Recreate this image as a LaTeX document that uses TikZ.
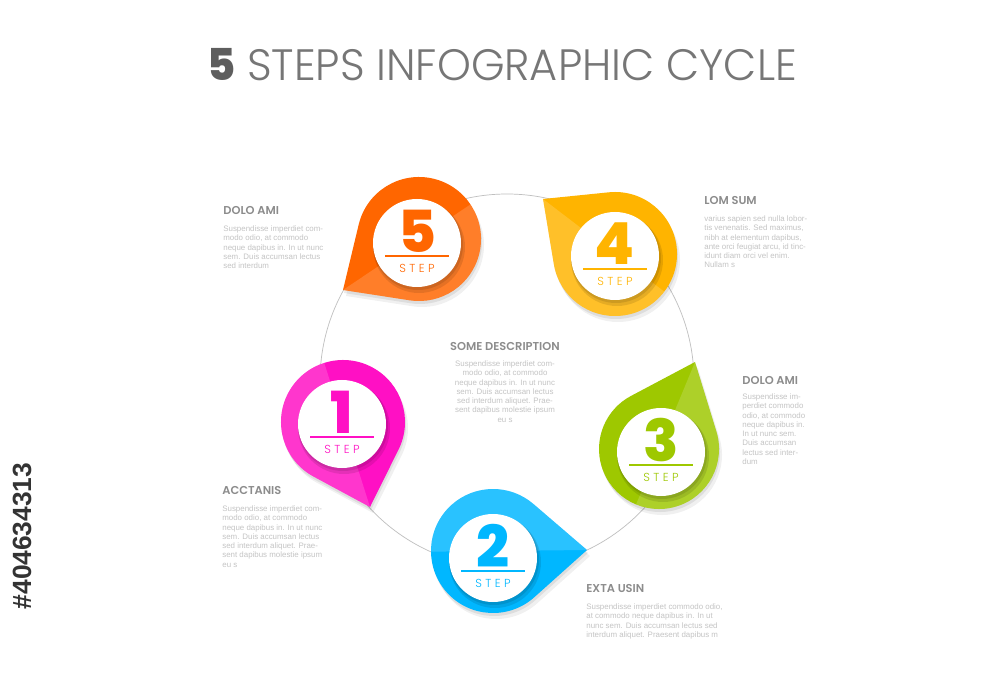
\documentclass[tikz,border=0pt]{standalone}
\usepackage{fontspec}
\setmainfont{Liberation Sans}
\newfontfamily\headfont{Poppins SemiBold}
\newfontfamily\numfont{Poppins ExtraBold}
\newfontfamily\thinfont{Poppins Light}
\newfontfamily\stepfont{Poppins Light}[LetterSpace=30]
\usepackage{graphicx}
\usetikzlibrary{calc}
\tikzset{>=latex}
\usepackage{xcolor}

\definecolor{pinkstep}{RGB}{255,16,196}
\definecolor{bluestep}{RGB}{0,183,255}
\definecolor{greenstep}{RGB}{158,200,0}
\definecolor{yellowstep}{RGB}{255,180,0}
\definecolor{orangestep}{RGB}{255,102,0}
\definecolor{headgray}{RGB}{140,140,140}
\definecolor{bodygray}{RGB}{196,196,196}
\definecolor{titlegray}{RGB}{118,118,118}

\tikzset{
  head/.style={font=\headfont\fontsize{6.5}{7}\selectfont, text=headgray, inner sep=0pt},
  body/.style={font=\fontsize{4.5}{5.27}\selectfont, text=bodygray, inner sep=0pt, align=left},
  bodyc/.style={body, align=center},
  stepnum/.style={font=\numfont\fontsize{33}{33}\selectfont, inner sep=0pt},
  steplabel/.style={font=\stepfont\fontsize{6.6}{7}\selectfont, inner sep=0pt}
}

\begin{document}
\begin{tikzpicture}[x=0.02cm,y=-0.02cm]
\useasboundingbox (0,0) rectangle (1000,695);
\fill[white] (0,0) rectangle (1000,695);

% title
\node[font=\fontsize{25}{25}\selectfont] (title) at (502,65)
  {\scalebox{0.98}[1]{\color{titlegray!80!black}\numfont 5\thinfont\color{titlegray}\ STEPS INFOGRAPHIC CYCLE}};

% cycle
\coordinate (cyc) at (507,381);
\draw[gray!50, line width=0.4pt] (cyc) circle (187);

% pins
\foreach \n/\cx/\cy/\r/\tx/\ty/\ix/\iy/\col/\s in {
  1/343/422/62/370/507/342/424/pinkstep/1,
  2/493/551/62/587/550/493/558/bluestep/-1,
  3/659/449/60/695/362/661/452/greenstep/1,
  4/615/254/62/543/199/615/256/yellowstep/-1,
  5/419/239/62/343/290/417/243/orangestep/-1}{
  \pgfmathsetmacro\pphi{atan2(\ty-\cy,\tx-\cx)}
  \pgfmathsetmacro\pal{acos(\r/veclen(\tx-\cx,\ty-\cy))}
  \pgfmathsetmacro\pa{\pphi+\pal}
  \pgfmathsetmacro\pb{\pphi-\pal+360}
  \pgfmathsetmacro\pr{\pphi+180}
  \pgfmathsetmacro\pc{\pphi+\s*90}
  \def\pinpath{(\tx,\ty) -- ([shift={(\cx,\cy)}]\pa:\r) arc[start angle=\pa, end angle=\pb, radius=\r] -- cycle}
  \coordinate (pin\n) at (\cx,\cy);
  \fill[black, opacity=0.06, shift={(3,6)}] \pinpath;
  \fill[black, opacity=0.08, shift={(1,3)}] \pinpath;
  \fill[\col] \pinpath;
  \begin{scope}
    \clip \pinpath;
    \fill[white, opacity=0.16] ([shift={(\cx,\cy)}]\pphi:200) -- ([shift={(\cx,\cy)}]\pr:200)
      -- ++(\pc:200) -- ++(\pphi:400) -- cycle;
  \end{scope}
  \fill[black, opacity=0.10] (\ix+2,\iy+4) circle (46);
  \fill[black, opacity=0.10] (\ix+1,\iy+2) circle (45);
  \fill[white] (\ix,\iy) circle (44);
  \node[stepnum, text=\col] (num\n) at (\ix,\iy-12) {\n};
  \draw[\col, line width=0.6pt] (\ix-32,\iy+13) -- (\ix+32,\iy+13);
  \node[steplabel, text=\col] (lab\n) at (\ix,\iy+25) {STEP};
}

% texts
\node[head] (hc) at (505,346) {SOME DESCRIPTION};
\node[bodyc, anchor=north] (tc) at (505,360.5) {Suspendisse imperdiet com-\\modo odio, at commodo\\neque dapibus in. In ut nunc\\sem. Duis accumsan lectus\\sed interdum aliquet. Prae-\\sent dapibus molestie ipsum\\eu s};

\node[head, anchor=west] (h5) at (223,211) {DOLO AMI};
\node[body, anchor=north west] (t5) at (223,225.5) {Suspendisse imperdiet com-\\modo odio, at commodo\\neque dapibus in. In ut nunc\\sem. Duis accumsan lectus\\sed interdum};

\node[head, anchor=west] (h4) at (704,201) {LOM SUM};
\node[body, anchor=north west] (t4) at (704,215.5) {varius sapien sed nulla lobor-\\tis venenatis. Sed maximus,\\nibh at elementum dapibus,\\ante orci feugiat arcu, id tinc-\\idunt diam orci vel enim.\\Nullam s};

\node[head, anchor=west] (h3) at (742,380) {DOLO AMI};
\node[body, anchor=north west] (t3) at (742,393.5) {Suspendisse im-\\perdiet commodo\\odio, at commodo\\neque dapibus in.\\In ut nunc sem.\\Duis accumsan\\lectus sed inter-\\dum};

\node[head, anchor=west] (h1) at (222,490) {ACCTANIS};
\node[body, anchor=north west] (t1) at (222,505.5) {Suspendisse imperdiet com-\\modo odio, at commodo\\neque dapibus in. In ut nunc\\sem. Duis accumsan lectus\\sed interdum aliquet. Prae-\\sent dapibus molestie ipsum\\eu s};

\node[head, anchor=west] (h2) at (586,588) {EXTA USIN};
\node[body, anchor=north west] (t2) at (586,603.5) {Suspendisse imperdiet commodo odio,\\at commodo neque dapibus in. In ut\\nunc sem. Duis accumsan lectus sed\\interdum aliquet. Praesent dapibus m};

\node[rotate=90, font=\bfseries\fontsize{15}{15}\selectfont, text=black!80] (stockid) at (22,536) {\#404634313};
\end{tikzpicture}
\end{document}
